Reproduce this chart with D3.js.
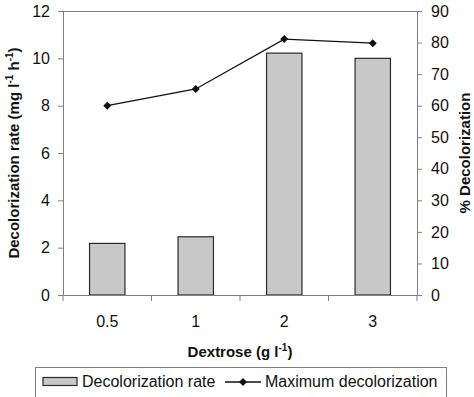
<!DOCTYPE html>
<html>
<head>
<meta charset="utf-8">
<script src="https://cdn.jsdelivr.net/npm/d3@7"></script>
<style>
  html, body { margin: 0; padding: 0; background: #fff; }
  svg { display: block; font-family: "Liberation Sans", Arial, sans-serif; }
</style>
</head>
<body>
<script>
// --- data ---
const categories = ["0.5", "1", "2", "3"];
const rateValues = [2.18, 2.46, 10.22, 10.0];      // mg l-1 h-1, bars (left axis)
const decolorValues = [60, 65.3, 81.1, 79.8];      // %, line (right axis)
const leftTicks = [0, 2, 4, 6, 8, 10, 12];
const rightTicks = [0, 10, 20, 30, 40, 50, 60, 70, 80, 90];

const width = 474, height = 397;
const plot = { left: 63, right: 417, top: 11, bottom: 295 };
const axisColor = "#808080", textColor = "#111";

const svg = d3.select("body").append("svg")
    .attr("width", width).attr("height", height);

// scales
const x = d3.scaleBand().domain(categories)
    .range([plot.left, plot.right]).paddingInner(0.6).paddingOuter(0.3);
const yLeft = d3.scaleLinear().domain([0, 12]).range([plot.bottom, plot.top]);
const yRight = d3.scaleLinear().domain([0, 90]).range([plot.bottom, plot.top]);

// top border of the plot frame
svg.append("line")
    .attr("x1", plot.left).attr("x2", plot.right)
    .attr("y1", plot.top + 0.5).attr("y2", plot.top + 0.5)
    .attr("stroke", axisColor).attr("stroke-width", 1);

// bars
svg.append("g").selectAll("rect").data(rateValues).join("rect")
    .attr("x", (d, i) => x(categories[i]))
    .attr("y", d => yLeft(d))
    .attr("width", x.bandwidth())
    .attr("height", d => yLeft(0) - yLeft(d))
    .attr("fill", "#c8c8c8").attr("stroke", "#2a2a2a").attr("stroke-width", 1.2);

// left axis
const gLeft = svg.append("g").attr("transform", `translate(${plot.left},0)`)
    .call(d3.axisLeft(yLeft).tickValues(leftTicks).tickSize(5).tickPadding(8));
// right axis
const gRight = svg.append("g").attr("transform", `translate(${plot.right},0)`)
    .call(d3.axisRight(yRight).tickValues(rightTicks).tickSize(5).tickPadding(9));
// bottom axis: labels under the bars, ticks at category boundaries
const gBottom = svg.append("g").attr("transform", `translate(0,${plot.bottom})`)
    .call(d3.axisBottom(x).tickSize(0).tickPadding(21));
const boundaries = categories.map(c => x(c) - (x.step() - x.bandwidth()) / 2).concat([plot.right]);
gBottom.selectAll(".sep").data(boundaries).join("line")
    .attr("class", "sep")
    .attr("x1", d => d).attr("x2", d => d)
    .attr("y1", 0).attr("y2", 6)
    .attr("stroke", axisColor);

[gLeft, gRight, gBottom].forEach(g => {
    g.select(".domain").attr("stroke", axisColor);
    g.selectAll(".tick line").attr("stroke", axisColor);
    g.selectAll(".tick text").attr("fill", textColor)
        .attr("font-size", 16).attr("font-family", "Liberation Sans, Arial, sans-serif");
});

// line with diamond markers
const line = d3.line()
    .x((d, i) => x(categories[i]) + x.bandwidth() / 2)
    .y(d => yRight(d));
svg.append("path").datum(decolorValues)
    .attr("d", line).attr("fill", "none")
    .attr("stroke", "#111").attr("stroke-width", 1.3);
svg.append("g").selectAll("path").data(decolorValues).join("path")
    .attr("transform", (d, i) => `translate(${x(categories[i]) + x.bandwidth() / 2},${yRight(d)}) rotate(45)`)
    .attr("d", d3.symbol().type(d3.symbolSquare).size(32))
    .attr("fill", "#111");

// axis titles
const leftTitle = svg.append("text")
    .attr("transform", `translate(19,${(plot.top + plot.bottom) / 2}) rotate(-90)`)
    .attr("text-anchor", "middle").attr("font-weight", "bold")
    .attr("font-size", 15).attr("fill", textColor);
leftTitle.append("tspan").text("Decolorization rate (mg l");
leftTitle.append("tspan").text("-1").attr("font-size", 10).attr("dy", -6);
leftTitle.append("tspan").text(" h").attr("dy", 6);
leftTitle.append("tspan").text("-1").attr("font-size", 10).attr("dy", -6);
leftTitle.append("tspan").text(")").attr("dy", 6);

svg.append("text")
    .attr("transform", `translate(470,${(plot.top + plot.bottom) / 2}) rotate(-90)`)
    .attr("text-anchor", "middle").attr("font-weight", "bold")
    .attr("font-size", 15).attr("fill", textColor)
    .text("% Decolorization");

const xTitle = svg.append("text")
    .attr("x", (plot.left + plot.right) / 2).attr("y", 357)
    .attr("text-anchor", "middle").attr("font-weight", "bold")
    .attr("font-size", 15).attr("fill", textColor);
xTitle.append("tspan").text("Dextrose (g l");
xTitle.append("tspan").text("-1").attr("font-size", 10).attr("dy", -6);
xTitle.append("tspan").text(")").attr("dy", 6);

// legend
const legend = svg.append("g");
legend.append("rect")
    .attr("x", 35.5).attr("y", 367.5).attr("width", 411).attr("height", 40)
    .attr("fill", "none").attr("stroke", axisColor);
legend.append("rect")
    .attr("x", 43).attr("y", 377.5).attr("width", 34).attr("height", 8)
    .attr("fill", "#c8c8c8").attr("stroke", "#2a2a2a").attr("stroke-width", 1.2);
legend.append("text")
    .attr("x", 82).attr("y", 386.5).attr("font-size", 16).attr("fill", textColor)
    .text("Decolorization rate");
legend.append("line")
    .attr("x1", 225).attr("x2", 261).attr("y1", 382).attr("y2", 382)
    .attr("stroke", "#111").attr("stroke-width", 1.3);
legend.append("path")
    .attr("transform", "translate(243,382) rotate(45)")
    .attr("d", d3.symbol().type(d3.symbolSquare).size(32))
    .attr("fill", "#111");
legend.append("text")
    .attr("x", 265).attr("y", 386.5).attr("font-size", 16).attr("fill", textColor)
    .text("Maximum decolorization");
</script>
</body>
</html>
